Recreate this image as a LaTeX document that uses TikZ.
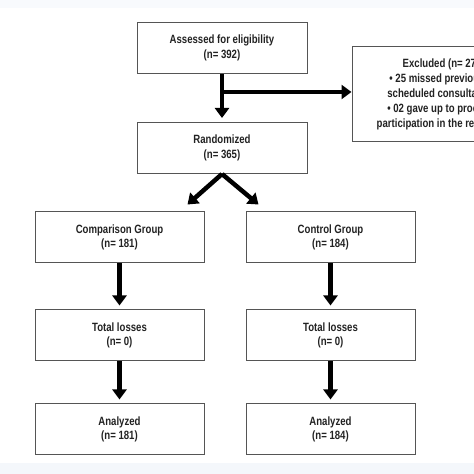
\documentclass[tikz,border=0pt]{standalone}
\usepackage{fontspec}
\setmainfont{Liberation Sans}[FakeStretch=0.80]
\usepackage{xcolor}
\usepackage{tikz}
\usetikzlibrary{calc}
\usetikzlibrary{positioning}
\usetikzlibrary{arrows.meta}

\definecolor{boxgray}{HTML}{555555}
\definecolor{textgray}{HTML}{222222}
\definecolor{bandblue}{HTML}{F4F7FB}

\begin{document}
\begin{tikzpicture}[x=1pt,y=1pt,font=\bfseries\fontsize{12}{14.5}\selectfont,
      box style/.style={rectangle,draw=boxgray,line width=1pt,minimum
        width=170pt,minimum height=51pt,align=center,text=textgray},
      arr style/.style={line width=4.5pt,-{Triangle[length=10pt,width=14pt]}}
      ]
      \useasboundingbox (0,0) rectangle (474,474);
      \clip (0,0) rectangle (474,474);
      \fill[bandblue] (0,0) rectangle (474,11);
      \fill[bandblue!60] (0,466) rectangle (474,474);

      \node[box style] (assess) at (222,426) {Assessed for eligibility\\(n= 392)};
      \node[box style,below=48pt of assess] (rand) {Randomized\\(n= 365)};
      \node[box style,minimum width=178pt,minimum height=95pt,font=\bfseries\fontsize{12}{15}\selectfont]
        (excl) at (441,379.5) {Excluded (n= 27)\\• 25 missed previously\\scheduled
        consultation\\• 02 gave up to proceed\\participation in the research};
      \node[box style,minimum width=169pt] (comp) at (119.5,236.5) {Comparison Group\\(n= 181)};
      \node[box style,minimum width=169pt,right=41pt of comp] (ctrl) {Control Group\\(n= 184)};
      \node[box style,minimum width=169pt,below=46pt of comp] (lossA) {Total losses\\(n= 0)};
      \node[box style,minimum width=169pt,below=46pt of ctrl] (lossB) {Total losses\\(n= 0)};
      \node[box style,minimum width=169pt,below=42pt of lossA] (analA) {Analyzed\\(n= 181)};
      \node[box style,minimum width=169pt,below=42pt of lossB] (analB) {Analyzed\\(n= 184)};

      \draw[arr style,shorten >=4pt] (assess) -- (rand);
      \draw[arr style] ([yshift=2.5pt]assess.south |- excl.west) -- ([yshift=2.5pt]excl.west);

      \draw[arr style] (rand.south) -- ([xshift=-17pt,yshift=7pt]comp.north east);
      \draw[arr style] (rand.south) -- ([xshift=13pt,yshift=7pt]ctrl.north west);

      \draw[arr style,shorten >=4pt] (comp) -- (lossA);
      \draw[arr style,shorten >=4pt] (lossA) -- (analA);
      \draw[arr style,shorten >=4pt] (ctrl) -- (lossB);
      \draw[arr style,shorten >=4pt] (lossB) -- (analB);

    \end{tikzpicture}
\end{document}
